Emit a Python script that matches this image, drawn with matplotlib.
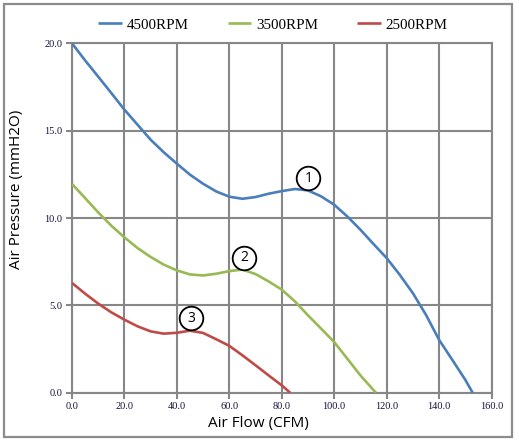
import numpy as np
import matplotlib
matplotlib.use("Agg")
import matplotlib.pyplot as plt
from matplotlib.patches import Rectangle

# data
flow_4500 = [0, 5, 10, 15, 20, 25, 30, 35, 40, 45, 50, 55, 60, 65, 70, 75, 80,
             85, 90, 95, 100, 105, 110, 115, 120, 125, 130, 135, 140, 145, 150, 152.8]
pres_4500 = [20.0, 19.02, 18.09, 17.15, 16.2, 15.34, 14.48, 13.76, 13.11, 12.48,
             11.96, 11.52, 11.22, 11.1, 11.2, 11.39, 11.54, 11.66, 11.58, 11.24,
             10.76, 10.09, 9.33, 8.51, 7.71, 6.75, 5.7, 4.46, 3.03, 1.89, 0.74, 0.0]

flow_3500 = [0, 5, 10, 15, 20, 25, 30, 35, 40, 45, 50, 55, 60, 65, 70, 75, 80,
             85, 90, 95, 100, 105, 110, 115.9]
pres_3500 = [11.95, 11.14, 10.32, 9.56, 8.89, 8.28, 7.77, 7.33, 7.0, 6.77, 6.71,
             6.81, 6.96, 7.05, 6.79, 6.37, 5.9, 5.23, 4.43, 3.67, 2.9, 1.95, 0.99, 0.0]

flow_2500 = [0, 5, 10, 15, 20, 25, 30, 35, 40, 45, 50, 55, 60, 65, 70, 75, 80, 83.2]
pres_2500 = [6.28, 5.67, 5.1, 4.6, 4.18, 3.8, 3.51, 3.38, 3.43, 3.55, 3.42, 3.06,
             2.68, 2.14, 1.57, 0.99, 0.42, 0.0]

series_names = ["4500RPM", "3500RPM", "2500RPM"]
series_colors = ["#4a7ebb", "#98b954", "#be4b48"]

# numbered markers on the curves
mark_labels = ["1", "2", "3"]
mark_x = [90.2, 65.6, 45.4]
mark_y = [12.27, 7.72, 4.27]

x_ticks = np.arange(0, 161, 20)
y_ticks = np.arange(0, 21, 5)

W, H = 519, 444
fig = plt.figure(figsize=(W / 100, H / 100), dpi=100)
fig.patch.set_facecolor("white")

# outer frame
fig.patches.append(Rectangle((4 / W, 1 - 437 / H), 508 / W, 433 / H,
                             transform=fig.transFigure, fill=False,
                             edgecolor="#8c8c8c", linewidth=1.6))

ax = fig.add_axes([72 / W, 1 - 392.7 / H, (491.5 - 72) / W, (392.7 - 43.3) / H])
grid_col = "#878787"

for fx, py, name, col in zip([flow_4500, flow_3500, flow_2500],
                             [pres_4500, pres_3500, pres_2500],
                             series_names, series_colors):
    ax.plot(fx, py, color=col, lw=1.9, label=name, solid_joinstyle="round",
            solid_capstyle="butt", zorder=3)

ax.plot(mark_x, mark_y, "o", ms=17, mfc="white", mec="black", mew=1.3,
        ls="none", zorder=4)
for lab, mx, my in zip(mark_labels, mark_x, mark_y):
    ax.text(mx, my, lab, ha="center", va="center", fontsize=10,
            family="Open Sans", color="black", zorder=5)

ax.set_xlim(0, 160)
ax.set_ylim(0, 20)
ax.set_xticks(x_ticks)
ax.set_yticks(y_ticks)
ax.set_xticklabels(["%.1f" % v for v in x_ticks])
ax.set_yticklabels(["%.1f" % v for v in y_ticks])
ax.grid(True, color=grid_col, lw=1.5)
ax.set_axisbelow(True)
for s in ax.spines.values():
    s.set_color(grid_col)
    s.set_linewidth(1.5)
ax.tick_params(direction="out", length=4, width=1.5, color=grid_col,
               labelsize=7.5, labelcolor="#14143c", pad=3)
for lab in ax.get_xticklabels() + ax.get_yticklabels():
    lab.set_family("Liberation Serif")

fig.text(258 / W, 1 - 423 / H, "Air Flow (CFM)", ha="center", va="center",
         fontsize=11, family="Open Sans", color="black")
fig.text(17 / W, 1 - 189 / H, "Air Pressure (mmH2O)", ha="center", va="center",
         rotation=90, fontsize=11, family="Open Sans", color="black")

fig.legend(loc="center", bbox_to_anchor=(273 / W, 1 - 25 / H), ncol=3,
           frameon=False, prop={"family": "Liberation Serif", "size": 10.8},
           handlelength=1.55, handletextpad=0.35, columnspacing=2.6)

fig.savefig("out.png", dpi=100)
